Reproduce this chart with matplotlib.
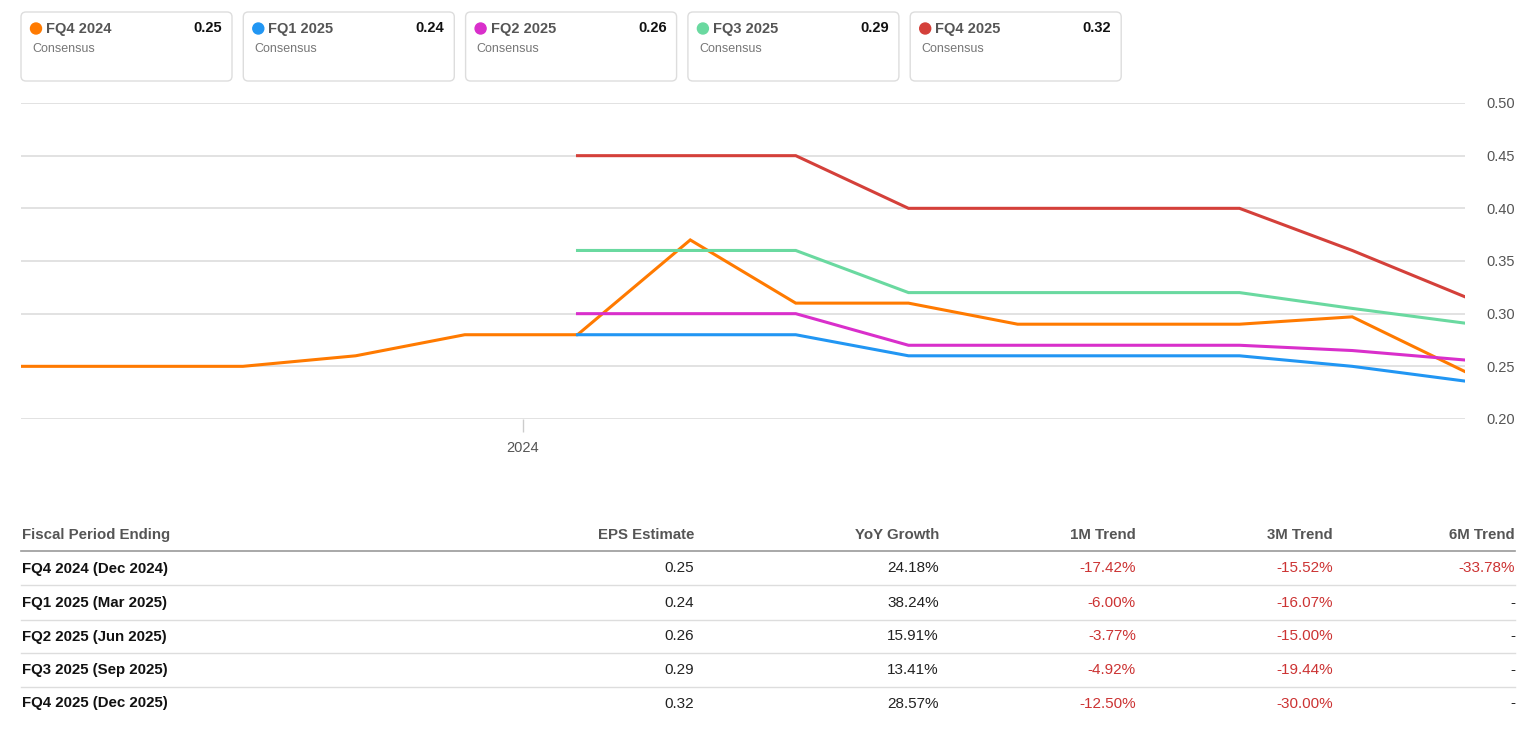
import numpy as np
import pandas as pd
import matplotlib
matplotlib.use("Agg")
import matplotlib.pyplot as plt
import matplotlib.dates as mdates
from matplotlib.patches import FancyBboxPatch, Circle

plt.rcParams['font.family'] = ['Liberation Sans', 'DejaVu Sans']

# data
dates = pd.date_range(start='2023-08-01', periods=14, freq='MS') + pd.Timedelta(days=15)
nan = np.nan
fq4_2024 = [0.25, 0.25, 0.25, 0.26, 0.28, 0.28, 0.37, 0.31, 0.31, 0.29, 0.29, 0.29, 0.297, 0.245]
fq1_2025 = [nan, nan, nan, nan, nan, 0.28, 0.28, 0.28, 0.26, 0.26, 0.26, 0.26, 0.25, 0.236]
fq2_2025 = [nan, nan, nan, nan, nan, 0.30, 0.30, 0.30, 0.27, 0.27, 0.27, 0.27, 0.265, 0.256]
fq3_2025 = [nan, nan, nan, nan, nan, 0.36, 0.36, 0.36, 0.32, 0.32, 0.32, 0.32, 0.305, 0.291]
fq4_2025 = [nan, nan, nan, nan, nan, 0.45, 0.45, 0.45, 0.40, 0.40, 0.40, 0.40, 0.36, 0.316]

series_names = ['FQ4 2024', 'FQ1 2025', 'FQ2 2025', 'FQ3 2025', 'FQ4 2025']
series_values = [fq4_2024, fq1_2025, fq2_2025, fq3_2025, fq4_2025]
series_colors = ['#ff7a00', '#2196f3', '#d92fcb', '#6ad9a0', '#d4403a']
consensus = ['0.25', '0.24', '0.26', '0.29', '0.32']

table_header = ['Fiscal Period Ending', 'EPS Estimate', 'YoY Growth', '1M Trend', '3M Trend', '6M Trend']
periods = ['FQ4 2024 (Dec 2024)', 'FQ1 2025 (Mar 2025)', 'FQ2 2025 (Jun 2025)',
           'FQ3 2025 (Sep 2025)', 'FQ4 2025 (Dec 2025)']
eps_estimate = ['0.25', '0.24', '0.26', '0.29', '0.32']
yoy_growth = ['24.18%', '38.24%', '15.91%', '13.41%', '28.57%']
trend_1m = ['-17.42%', '-6.00%', '-3.77%', '-4.92%', '-12.50%']
trend_3m = ['-15.52%', '-16.07%', '-15.00%', '-19.44%', '-30.00%']
trend_6m = ['-33.78%', '-', '-', '-', '-']

W, H = 1540, 738
fig = plt.figure(figsize=(W / 100, H / 100), dpi=100)

# line chart
ax = fig.add_axes([21 / W, 1 - 419 / H, (1465 - 21) / W, (419 - 103) / H])
for vals, col in zip(series_values, series_colors):
    ax.plot(dates, vals, color=col, lw=2.2, solid_joinstyle='miter', zorder=3)
ax.set_xlim(dates[0], dates[-1])
ax.set_ylim(0.20, 0.50)
ax.set_yticks(np.arange(0.20, 0.501, 0.05))
ax.set_yticklabels([f'{v:.2f}' for v in np.arange(0.20, 0.501, 0.05)])
ax.yaxis.tick_right()
ax.grid(axis='y', color='#dddddd', lw=1.2, zorder=0)
ax.set_axisbelow(True)
for s in ax.spines.values():
    s.set_visible(False)
ax.tick_params(axis='y', length=0, pad=15.5, labelsize=10.5, labelcolor='#555555')
ax.xaxis.set_major_locator(mdates.YearLocator())
ax.xaxis.set_major_formatter(mdates.DateFormatter('%Y'))
ax.tick_params(axis='x', length=9, width=1, color='#cccccc', pad=7,
               labelsize=10.5, labelcolor='#555555')

# overlay in pixel units for legend cards and table
ov = fig.add_axes([0, 0, 1, 1])
ov.set_xlim(0, W)
ov.set_ylim(H, 0)
ov.axis('off')

card_w, card_gap = 211, 11.3
for i, (name, col, val) in enumerate(zip(series_names, series_colors, consensus)):
    x0 = 21 + i * (card_w + card_gap)
    ov.add_patch(FancyBboxPatch((x0, 12), card_w, 69,
                                boxstyle='round,pad=0,rounding_size=5',
                                fc='white', ec='#dddddd', lw=1))
    ov.add_patch(Circle((x0 + 15, 28.5), 5.5, color=col))
    ov.text(x0 + 25, 28.5, name, fontsize=10.5, fontweight='bold', color='#555555',
            va='center', ha='left')
    ov.text(x0 + card_w - 10, 28.5, val, fontsize=10.5, fontweight='bold', color='#111111',
            va='center', ha='right')
    ov.text(x0 + 11, 49, 'Consensus', fontsize=9, color='#777777', va='center', ha='left')

# table
col_x = [22, 694, 939, 1136, 1333, 1515]
col_ha = ['left', 'right', 'right', 'right', 'right', 'right']
for x, ha, txt in zip(col_x, col_ha, table_header):
    ov.text(x, 535, txt, fontsize=10.8, fontweight='bold', color='#555555', ha=ha, va='center')
ov.plot([21, 1515], [551, 551], color='#999999', lw=1.2)

row_y = [568.5, 603, 636.5, 670, 703.5]
columns = [periods, eps_estimate, yoy_growth, trend_1m, trend_3m, trend_6m]
for r, y in enumerate(row_y):
    for c, (x, ha, colvals) in enumerate(zip(col_x, col_ha, columns)):
        txt = colvals[r]
        if c == 0:
            ov.text(x, y, txt, fontsize=10.8, fontweight='bold', color='#111111', ha=ha, va='center')
        else:
            color = '#cc3333' if txt.startswith('-') and txt != '-' else '#222222'
            ov.text(x, y, txt, fontsize=11, color=color, ha=ha, va='center')
    if r < len(row_y) - 1:
        ov.plot([21, 1515], [y + 16.5, y + 16.5], color='#dddddd', lw=1)

fig.savefig('out.png', dpi=100)
